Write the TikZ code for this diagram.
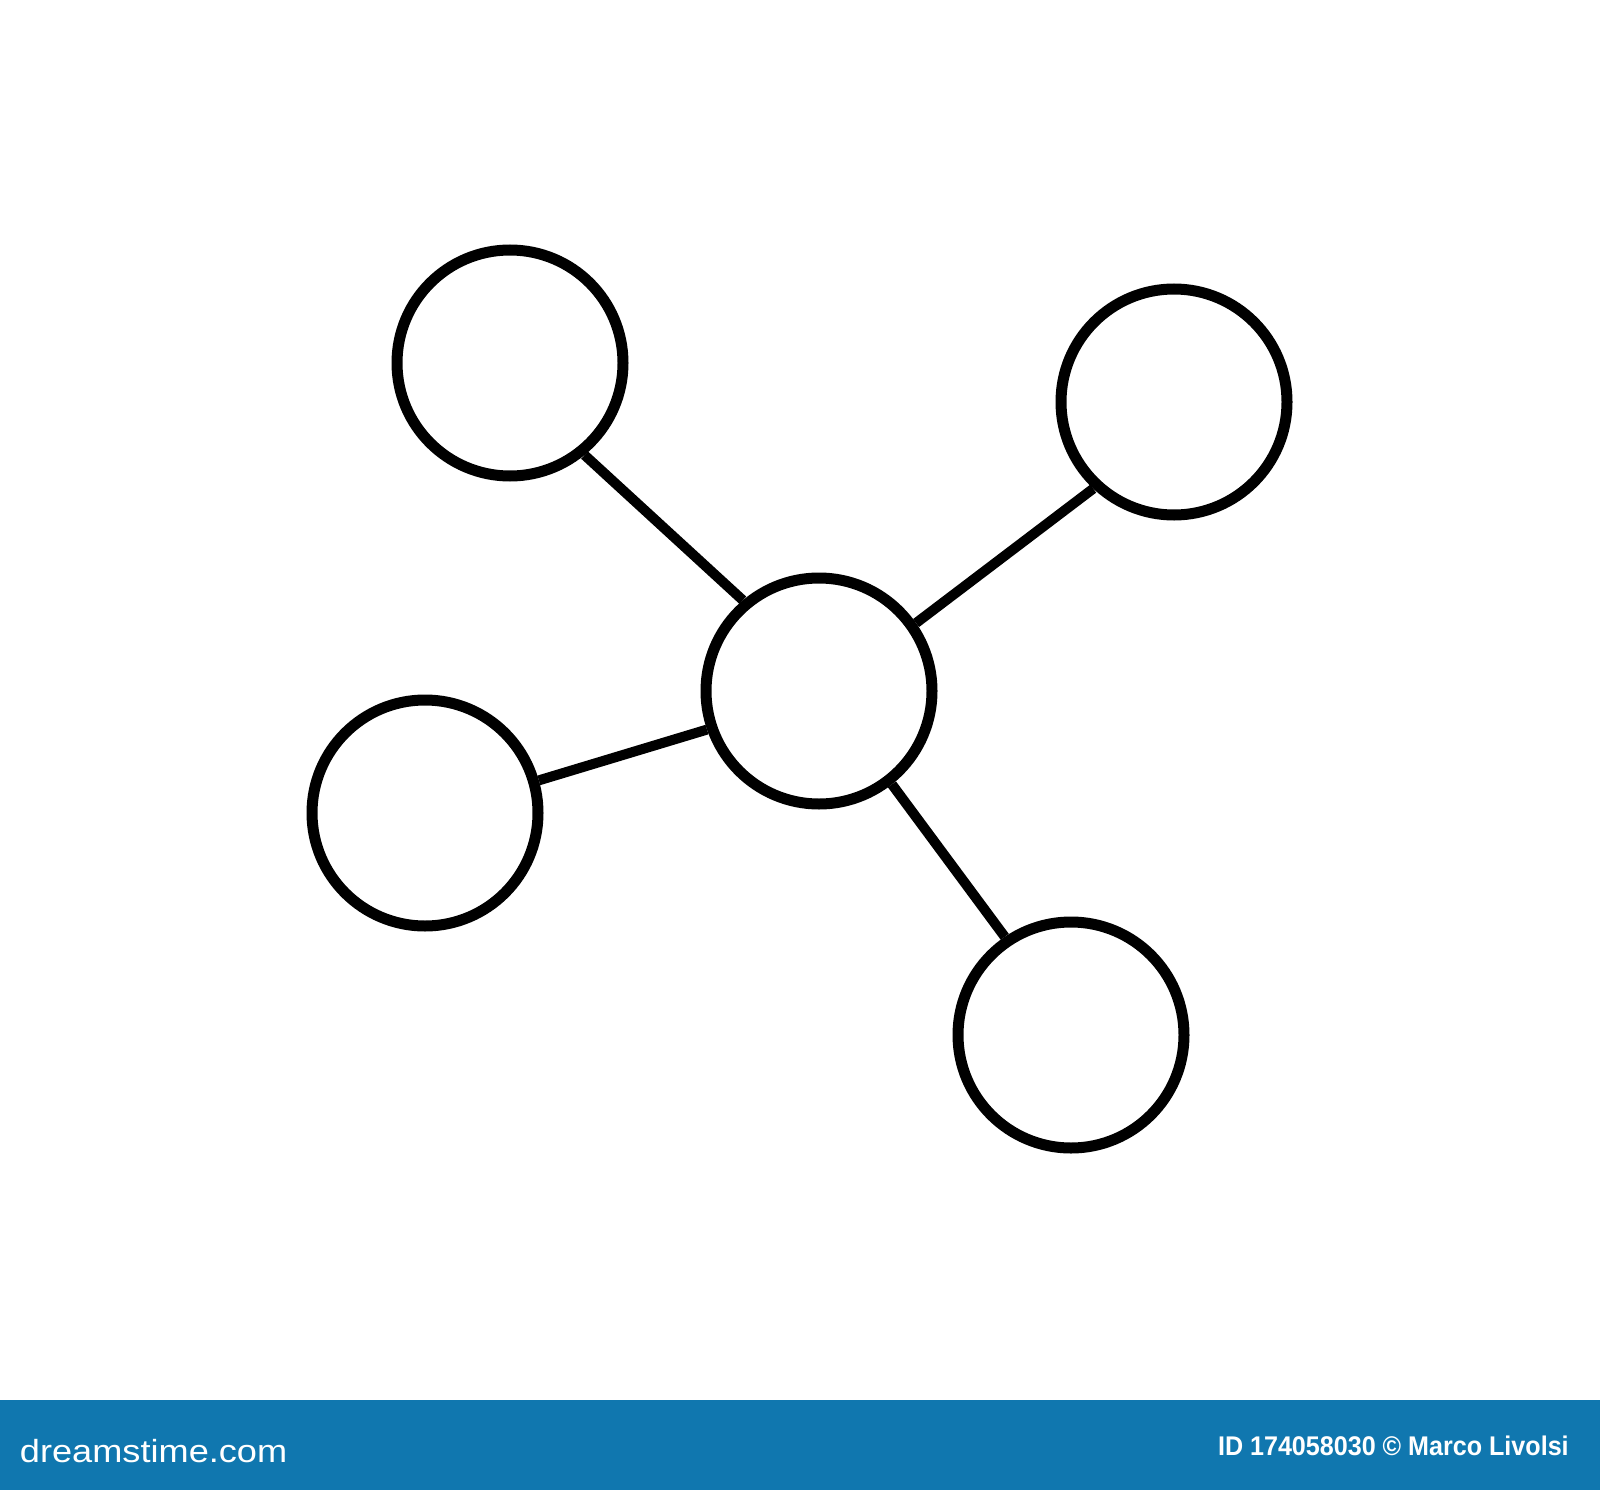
\documentclass[tikz,border=0pt]{standalone}
\usepackage{fontspec}
\setmainfont{Liberation Sans}
\definecolor{banner}{RGB}{16,119,175}
\begin{document}
\begin{tikzpicture}[x=1pt,y=-1pt,
  ball/.style={circle,draw=black,line width=11pt,minimum size=226pt,inner sep=0pt,fill=white},
  link/.style={line width=10pt,black}]
\useasboundingbox (0,0) rectangle (1600,1490);
\fill[white] (0,0) rectangle (1600,1400);
\fill[banner] (0,1400) rectangle (1600,1490);
\node[ball] (c) at (819,691) {};
\node[ball] (tl) at (510,363) {};
\node[ball] (tr) at (1174,402) {};
\node[ball] (l) at (425,813) {};
\node[ball] (br) at (1071,1035) {};
\draw[link] (c.130.8) -- (tl.-51);
\draw[link] (c.35.9) -- (tr.227.8);
\draw[link] (c.199.8) -- (l.16.2);
\draw[link] (c.-52.7) -- (br.124.1);
\node[text=white,font=\fontsize{32}{34}\selectfont,anchor=west,xscale=1.13] (logo) at (16,1451) {dreamstime.com};
\node[text=white,font=\bfseries\fontsize{27}{30}\selectfont,anchor=east,xscale=0.93] (id) at (1572,1446) {ID 174058030 © Marco Livolsi};
\end{tikzpicture}
\end{document}
